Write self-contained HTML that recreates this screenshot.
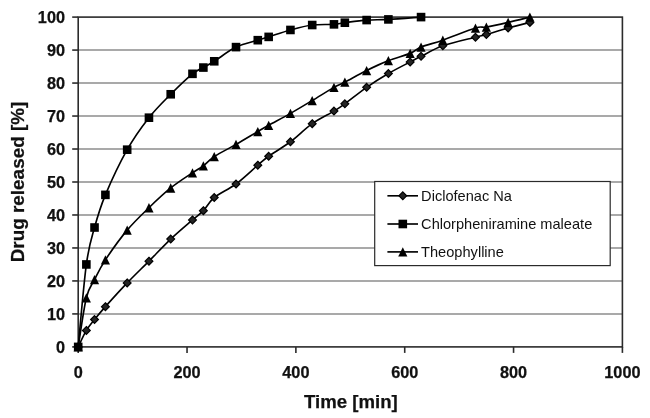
<!DOCTYPE html>
<html><head><meta charset="utf-8"><title>Drug release</title>
<style>
html,body{margin:0;padding:0;background:#fff;}
body{width:650px;height:418px;overflow:hidden;}
svg{display:block;}
text{font-family:"Liberation Sans",sans-serif;fill:#111;}
.b{font-weight:bold;stroke:#111;stroke-width:0.25px;}
</style></head><body>
<svg width="650" height="418" viewBox="0 0 650 418">
<rect width="650" height="418" fill="#fff"/>
<g stroke="#8c8c8c" stroke-width="1.5" fill="none">
<path d="M78.20 313.92H622.40"/>
<path d="M78.20 280.94H622.40"/>
<path d="M78.20 247.96H622.40"/>
<path d="M78.20 214.98H622.40"/>
<path d="M78.20 182.00H622.40"/>
<path d="M78.20 149.02H622.40"/>
<path d="M78.20 116.04H622.40"/>
<path d="M78.20 83.06H622.40"/>
<path d="M78.20 50.08H622.40"/>
</g>
<g stroke="#2b2b2b" stroke-width="1.6" fill="none">
<rect x="78.20" y="17.10" width="544.20" height="329.80"/>
<path d="M72.20 346.90H78.20"/>
<path d="M72.20 313.92H78.20"/>
<path d="M72.20 280.94H78.20"/>
<path d="M72.20 247.96H78.20"/>
<path d="M72.20 214.98H78.20"/>
<path d="M72.20 182.00H78.20"/>
<path d="M72.20 149.02H78.20"/>
<path d="M72.20 116.04H78.20"/>
<path d="M72.20 83.06H78.20"/>
<path d="M72.20 50.08H78.20"/>
<path d="M72.20 17.10H78.20"/>
<path d="M78.20 346.90V352.90"/>
<path d="M187.04 346.90V352.90"/>
<path d="M295.88 346.90V352.90"/>
<path d="M404.72 346.90V352.90"/>
<path d="M513.56 346.90V352.90"/>
<path d="M622.40 346.90V352.90"/>
</g>
<g class="b" font-size="16.3" text-anchor="end">
<text x="65.0" y="352.50">0</text>
<text x="65.0" y="319.52">10</text>
<text x="65.0" y="286.54">20</text>
<text x="65.0" y="253.56">30</text>
<text x="65.0" y="220.58">40</text>
<text x="65.0" y="187.60">50</text>
<text x="65.0" y="154.62">60</text>
<text x="65.0" y="121.64">70</text>
<text x="65.0" y="88.66">80</text>
<text x="65.0" y="55.68">90</text>
<text x="65.0" y="22.70">100</text>
</g>
<g class="b" font-size="16.3" text-anchor="middle">
<text x="78.20" y="377.6">0</text>
<text x="187.04" y="377.6">200</text>
<text x="295.88" y="377.6">400</text>
<text x="404.72" y="377.6">600</text>
<text x="513.56" y="377.6">800</text>
<text x="622.40" y="377.6">1000</text>
</g>
<text class="b" font-size="18.6" text-anchor="middle" x="350.9" y="408.4">Time [min]</text>
<text class="b" font-size="18.9" text-anchor="middle" transform="translate(24.0 182) rotate(-90)">Drug released [%]</text>
<path d="M78.20 346.90 C79.56 344.15 83.64 334.97 86.36 330.41 C89.08 325.85 91.35 323.48 94.53 319.53 C97.70 315.57 99.97 312.77 105.41 306.66 C110.85 300.56 119.92 290.50 127.18 282.92 C134.43 275.33 141.69 268.46 148.95 261.15 C156.20 253.84 163.46 245.93 170.71 239.06 C177.97 232.18 187.04 224.65 192.48 219.93 C197.92 215.20 199.74 214.43 203.37 210.69 C206.99 206.95 208.81 201.95 214.25 197.50 C219.69 193.05 228.76 189.37 236.02 183.98 C243.27 178.59 252.34 169.80 257.79 165.18 C263.23 160.56 263.23 160.18 268.67 156.28 C274.11 152.37 283.18 147.21 290.44 141.76 C297.69 136.32 304.95 128.74 312.21 123.63 C319.46 118.51 328.53 114.39 333.97 111.09 C339.42 107.80 339.42 107.80 344.86 103.84 C350.30 99.88 359.37 92.40 366.63 87.35 C373.88 82.29 381.14 77.73 388.39 73.50 C395.65 69.26 404.72 64.81 410.16 61.95 C415.60 59.09 415.60 59.04 421.05 56.35 C426.49 53.65 433.74 48.98 442.81 45.79 C451.88 42.60 468.21 39.09 475.47 37.22 C482.72 35.35 480.91 36.12 486.35 34.58 C491.79 33.04 500.86 30.02 508.12 27.98 C515.37 25.95 526.26 23.31 529.89 22.38" fill="none" stroke="#000" stroke-width="1.65" stroke-linejoin="round"/>
<g fill="#242424">
<path d="M78.20 343.00L82.10 346.90L78.20 350.80L74.30 346.90Z" stroke="#000" stroke-width="1.2"/>
<path d="M86.36 326.51L90.26 330.41L86.36 334.31L82.46 330.41Z" stroke="#000" stroke-width="1.2"/>
<path d="M94.53 315.63L98.43 319.53L94.53 323.43L90.63 319.53Z" stroke="#000" stroke-width="1.2"/>
<path d="M105.41 302.76L109.31 306.66L105.41 310.56L101.51 306.66Z" stroke="#000" stroke-width="1.2"/>
<path d="M127.18 279.02L131.08 282.92L127.18 286.82L123.28 282.92Z" stroke="#000" stroke-width="1.2"/>
<path d="M148.95 257.25L152.85 261.15L148.95 265.05L145.05 261.15Z" stroke="#000" stroke-width="1.2"/>
<path d="M170.71 235.16L174.61 239.06L170.71 242.96L166.81 239.06Z" stroke="#000" stroke-width="1.2"/>
<path d="M192.48 216.03L196.38 219.93L192.48 223.83L188.58 219.93Z" stroke="#000" stroke-width="1.2"/>
<path d="M203.37 206.79L207.27 210.69L203.37 214.59L199.47 210.69Z" stroke="#000" stroke-width="1.2"/>
<path d="M214.25 193.60L218.15 197.50L214.25 201.40L210.35 197.50Z" stroke="#000" stroke-width="1.2"/>
<path d="M236.02 180.08L239.92 183.98L236.02 187.88L232.12 183.98Z" stroke="#000" stroke-width="1.2"/>
<path d="M257.79 161.28L261.69 165.18L257.79 169.08L253.89 165.18Z" stroke="#000" stroke-width="1.2"/>
<path d="M268.67 152.38L272.57 156.28L268.67 160.18L264.77 156.28Z" stroke="#000" stroke-width="1.2"/>
<path d="M290.44 137.86L294.34 141.76L290.44 145.66L286.54 141.76Z" stroke="#000" stroke-width="1.2"/>
<path d="M312.21 119.73L316.11 123.63L312.21 127.53L308.31 123.63Z" stroke="#000" stroke-width="1.2"/>
<path d="M333.97 107.19L337.87 111.09L333.97 114.99L330.07 111.09Z" stroke="#000" stroke-width="1.2"/>
<path d="M344.86 99.94L348.76 103.84L344.86 107.74L340.96 103.84Z" stroke="#000" stroke-width="1.2"/>
<path d="M366.63 83.45L370.53 87.35L366.63 91.25L362.73 87.35Z" stroke="#000" stroke-width="1.2"/>
<path d="M388.39 69.60L392.29 73.50L388.39 77.40L384.49 73.50Z" stroke="#000" stroke-width="1.2"/>
<path d="M410.16 58.05L414.06 61.95L410.16 65.85L406.26 61.95Z" stroke="#000" stroke-width="1.2"/>
<path d="M421.05 52.45L424.95 56.35L421.05 60.25L417.15 56.35Z" stroke="#000" stroke-width="1.2"/>
<path d="M442.81 41.89L446.71 45.79L442.81 49.69L438.91 45.79Z" stroke="#000" stroke-width="1.2"/>
<path d="M475.47 33.32L479.37 37.22L475.47 41.12L471.57 37.22Z" stroke="#000" stroke-width="1.2"/>
<path d="M486.35 30.68L490.25 34.58L486.35 38.48L482.45 34.58Z" stroke="#000" stroke-width="1.2"/>
<path d="M508.12 24.08L512.02 27.98L508.12 31.88L504.22 27.98Z" stroke="#000" stroke-width="1.2"/>
<path d="M529.89 18.48L533.79 22.38L529.89 26.28L525.99 22.38Z" stroke="#000" stroke-width="1.2"/>
</g>
<path d="M78.20 346.90 C79.56 333.16 83.64 284.35 86.36 264.45 C89.08 244.55 91.35 239.11 94.53 227.51 C97.70 215.91 99.97 207.83 105.41 194.86 C110.85 181.89 119.92 162.54 127.18 149.68 C134.43 136.82 141.69 126.92 148.95 117.69 C156.20 108.45 163.46 101.58 170.71 94.27 C177.97 86.96 187.04 78.28 192.48 73.83 C197.92 69.37 199.74 69.65 203.37 67.56 C206.99 65.47 208.81 64.70 214.25 61.29 C219.69 57.89 228.76 50.63 236.02 47.11 C243.27 43.59 252.34 41.89 257.79 40.19 C263.23 38.48 263.23 38.59 268.67 36.89 C274.11 35.18 283.18 31.94 290.44 29.96 C297.69 27.98 304.95 25.95 312.21 25.02 C319.46 24.08 328.53 24.74 333.97 24.36 C339.42 23.97 339.42 23.42 344.86 22.71 C350.30 21.99 359.37 20.62 366.63 20.07 C373.88 19.52 379.32 19.90 388.39 19.41 C397.46 18.91 415.60 17.48 421.05 17.10" fill="none" stroke="#000" stroke-width="1.65" stroke-linejoin="round"/>
<g fill="#000">
<rect x="73.90" y="342.60" width="8.60" height="8.60"/>
<rect x="82.06" y="260.15" width="8.60" height="8.60"/>
<rect x="90.23" y="223.21" width="8.60" height="8.60"/>
<rect x="101.11" y="190.56" width="8.60" height="8.60"/>
<rect x="122.88" y="145.38" width="8.60" height="8.60"/>
<rect x="144.65" y="113.39" width="8.60" height="8.60"/>
<rect x="166.41" y="89.97" width="8.60" height="8.60"/>
<rect x="188.18" y="69.53" width="8.60" height="8.60"/>
<rect x="199.07" y="63.26" width="8.60" height="8.60"/>
<rect x="209.95" y="56.99" width="8.60" height="8.60"/>
<rect x="231.72" y="42.81" width="8.60" height="8.60"/>
<rect x="253.49" y="35.89" width="8.60" height="8.60"/>
<rect x="264.37" y="32.59" width="8.60" height="8.60"/>
<rect x="286.14" y="25.66" width="8.60" height="8.60"/>
<rect x="307.91" y="20.72" width="8.60" height="8.60"/>
<rect x="329.67" y="20.06" width="8.60" height="8.60"/>
<rect x="340.56" y="18.41" width="8.60" height="8.60"/>
<rect x="362.33" y="15.77" width="8.60" height="8.60"/>
<rect x="384.09" y="15.11" width="8.60" height="8.60"/>
<rect x="416.75" y="12.80" width="8.60" height="8.60"/>
</g>
<path d="M78.20 346.90 C79.56 338.71 83.64 308.97 86.36 297.76 C89.08 286.55 91.35 285.94 94.53 279.62 C97.70 273.30 99.97 268.08 105.41 259.83 C110.85 251.59 119.92 238.84 127.18 230.15 C134.43 221.47 141.69 214.76 148.95 207.72 C156.20 200.69 163.46 193.76 170.71 187.94 C177.97 182.11 187.04 176.45 192.48 172.77 C197.92 169.08 199.74 168.53 203.37 165.84 C206.99 163.15 208.81 160.18 214.25 156.61 C219.69 153.03 228.76 148.58 236.02 144.40 C243.27 140.23 252.34 134.73 257.79 131.54 C263.23 128.35 263.23 128.30 268.67 125.27 C274.11 122.25 283.18 117.52 290.44 113.40 C297.69 109.28 304.95 104.88 312.21 100.54 C319.46 96.20 328.53 90.43 333.97 87.35 C339.42 84.27 339.42 84.87 344.86 82.07 C350.30 79.27 359.37 74.10 366.63 70.53 C373.88 66.95 381.14 63.49 388.39 60.63 C395.65 57.78 404.72 55.63 410.16 53.38 C415.60 51.12 415.60 49.31 421.05 47.11 C426.49 44.91 433.74 43.37 442.81 40.19 C451.88 37.00 468.21 30.18 475.47 27.98 C482.72 25.78 480.91 27.93 486.35 26.99 C491.79 26.06 500.86 24.03 508.12 22.38 C515.37 20.73 526.26 17.98 529.89 17.10" fill="none" stroke="#000" stroke-width="1.65" stroke-linejoin="round"/>
<g fill="#000">
<path d="M78.20 342.30L82.80 351.60L73.60 351.60Z"/>
<path d="M86.36 293.16L90.96 302.46L81.76 302.46Z"/>
<path d="M94.53 275.02L99.13 284.32L89.93 284.32Z"/>
<path d="M105.41 255.23L110.01 264.53L100.81 264.53Z"/>
<path d="M127.18 225.55L131.78 234.85L122.58 234.85Z"/>
<path d="M148.95 203.12L153.55 212.42L144.35 212.42Z"/>
<path d="M170.71 183.34L175.31 192.64L166.11 192.64Z"/>
<path d="M192.48 168.17L197.08 177.47L187.88 177.47Z"/>
<path d="M203.37 161.24L207.97 170.54L198.77 170.54Z"/>
<path d="M214.25 152.01L218.85 161.31L209.65 161.31Z"/>
<path d="M236.02 139.80L240.62 149.10L231.42 149.10Z"/>
<path d="M257.79 126.94L262.39 136.24L253.19 136.24Z"/>
<path d="M268.67 120.67L273.27 129.97L264.07 129.97Z"/>
<path d="M290.44 108.80L295.04 118.10L285.84 118.10Z"/>
<path d="M312.21 95.94L316.81 105.24L307.61 105.24Z"/>
<path d="M333.97 82.75L338.57 92.05L329.37 92.05Z"/>
<path d="M344.86 77.47L349.46 86.77L340.26 86.77Z"/>
<path d="M366.63 65.93L371.23 75.23L362.03 75.23Z"/>
<path d="M388.39 56.03L392.99 65.33L383.79 65.33Z"/>
<path d="M410.16 48.78L414.76 58.08L405.56 58.08Z"/>
<path d="M421.05 42.51L425.65 51.81L416.45 51.81Z"/>
<path d="M442.81 35.59L447.41 44.89L438.21 44.89Z"/>
<path d="M475.47 23.38L480.07 32.68L470.87 32.68Z"/>
<path d="M486.35 22.39L490.95 31.69L481.75 31.69Z"/>
<path d="M508.12 17.78L512.72 27.08L503.52 27.08Z"/>
<path d="M529.89 12.50L534.49 21.80L525.29 21.80Z"/>
</g>
<rect x="374.7" y="181.5" width="235.5" height="84.1" fill="#fff" stroke="#2b2b2b" stroke-width="1.2"/>
<path d="M387.4 195.80H418.0" stroke="#000" stroke-width="1.65"/>
<g fill="#242424"><path d="M402.80 191.90L406.70 195.80L402.80 199.70L398.90 195.80Z" stroke="#000" stroke-width="1.2"/></g>
<text x="421.1" y="200.80" font-size="14.6">Diclofenac Na</text>
<path d="M387.4 224.00H418.0" stroke="#000" stroke-width="1.65"/>
<g fill="#000"><rect x="398.50" y="219.70" width="8.60" height="8.60"/></g>
<text x="421.1" y="228.80" font-size="14.6">Chlorpheniramine maleate</text>
<path d="M387.4 251.90H418.0" stroke="#000" stroke-width="1.65"/>
<g fill="#000"><path d="M402.80 247.30L407.40 256.60L398.20 256.60Z"/></g>
<text x="421.1" y="256.90" font-size="14.6">Theophylline</text>
</svg></body></html>
